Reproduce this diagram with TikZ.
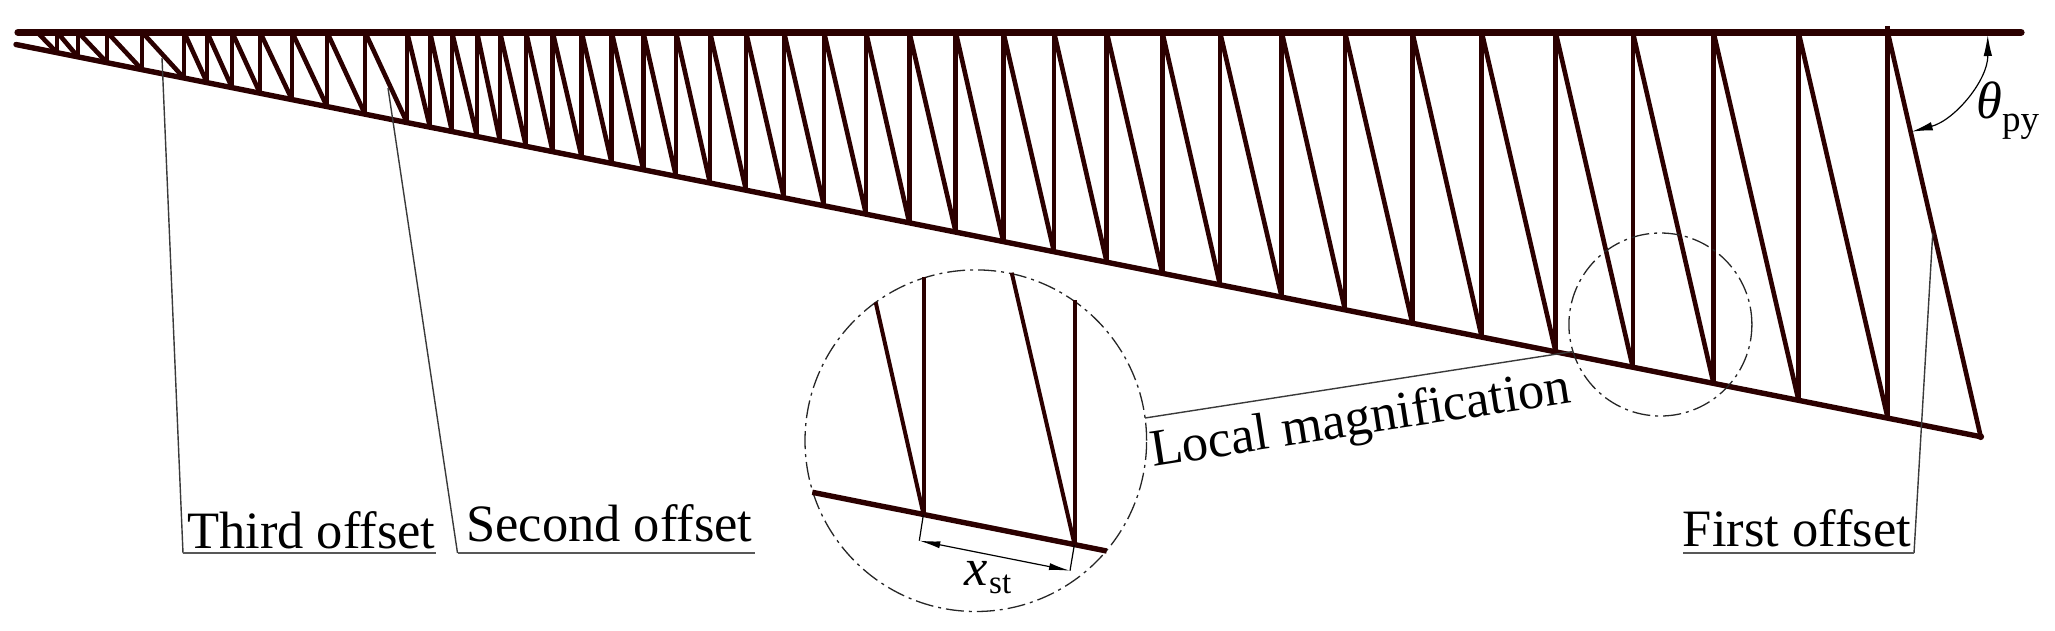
\documentclass[tikz,border=0pt]{standalone}
\usepackage{fontspec}
\setmainfont[Ligatures=NoCommon]{Liberation Serif}
\usetikzlibrary{arrows.meta}
\definecolor{truss}{HTML}{2B0000}
\definecolor{thin}{HTML}{3A3A3A}
\tikzset{
  chordtop/.style={draw=truss,line width=7.2pt,line cap=round},
  chordlow/.style={draw=truss,line width=5.4pt,line cap=round},
  member/.style={draw=truss,line width=4.6pt},
  leader/.style={draw=thin,line width=1.4pt},
  underl/.style={draw=thin!85,line width=2pt},
  zoomring/.style={draw=black!85,line width=1.3pt,dash pattern=on 18pt off 5pt on 3pt off 5pt},
  dim/.style={draw=black,line width=1.2pt},
  lbl/.style={inner sep=0pt,anchor=base west,font=\fontsize{52.5}{60}\selectfont,text=black}
}
\newcommand{\lowy}[1]{44.5+(#1-16)*0.1996}
\begin{document}
\begin{tikzpicture}[x=1pt,y=-1pt]
\useasboundingbox (0,0) rectangle (2055,630);
% diagonals and verticals
\foreach \a/\b in {37/57,57/78,78/107,107/142,142/184,184/207,207/232,232/260,260/292,292/327,327/365,365/407,407/430,430/452,452/477,477/500,500/526,526/552.7,552.7/581.7,581.7/611.7,611.7/643.3,643.3/676,676/710,710/746,746/784,784/824,824/866,866/909.3,909.3/955.7,955.7/1003.3,1003.3/1054,1054/1106.7,1106.7/1162.3,1162.3/1220,1220/1281.7,1281.7/1345,1345/1412.3,1412.3/1481.7,1481.7/1555.6,1555.6/1632.8,1632.8/1713.5,1713.5/1798.5,1798.5/1887.7}{
  \pgfmathsetmacro{\yb}{\lowy{\b}}
  \draw[member] (\a,32) -- (\b,\yb);
  \draw[member] (\b,32) -- (\b,\yb);
}
\coordinate (peg) at (1887.7,26);
\coordinate (tipend) at (1980.7,436.7);
\draw[member] (peg) -- (1887.7,40);
\draw[member] (1887.7,32) -- (tipend);
% chords
\coordinate (topL) at (18,32.4);
\coordinate (topR) at (2021,32.4);
\coordinate (lowL) at (16,44.5);
\draw[chordtop] (topL) -- (topR);
\draw[chordlow] (lowL) -- (tipend);
\fill[truss] (tipend) circle (3.4pt);
% small ring and big ring
\coordinate (smallC) at (1660.4,324.5);
\coordinate (bigC) at (975.8,440.7);
\draw[zoomring] (smallC) circle (91.5pt);
\draw[zoomring] (bigC) circle (170.8pt);
% magnified detail
\draw[member,line width=4pt] (875.7,302.3) -- (923.3,513.3);
\draw[member,line width=4pt] (924,276.7) -- (924,513.3);
\draw[member,line width=4pt] (1011.7,272.7) -- (1074.3,543.3);
\draw[member,line width=4pt] (1075,300) -- (1075,543.3);
\draw[chordlow,line cap=butt] (812.3,492.3) -- (1106.7,551);
% dimension
\coordinate (d1a) at (923.3,515);
\coordinate (d1b) at (919.3,540.7);
\coordinate (d2a) at (1074.3,545);
\coordinate (d2b) at (1070,570.7);
\draw[dim] (d1a) -- (d1b);
\draw[dim] (d2a) -- (d2b);
\draw[dim,{Latex[length=21pt,width=7pt]}-{Latex[length=21pt,width=7pt]}] (d1b) -- (d2b);
\node[lbl] (xst) at (964,585) {\textit{x}};
\node[inner sep=0pt,anchor=base west,font=\fontsize{33}{36}\selectfont] (xsub) at (989,593) {st};
% angle
\coordinate (angA) at (1911.7,131.7);
\coordinate (angB) at (1987.7,35);
\draw[dim,{Latex[length=21pt,width=8.5pt]}-{Latex[length=21pt,width=8.5pt]}] (angA) .. controls (1955,120) and (1988,80) .. (angB);
\node[lbl] (theta) at (1976.5,118) {\textit{θ}};
\node[inner sep=0pt,anchor=base west,font=\fontsize{37}{40}\selectfont] (thsub) at (2002,131.5) {py};
% labels and leaders
\node[lbl] (third) at (187,548) {Third offset};
\node[lbl] (second) at (466,541) {Second offset};
\node[lbl] (first) at (1682.7,546) {First offset};
\node[lbl,rotate=8.8] (local) at (1153,467) {Local magnification};
\coordinate (c3s) at (162,58);
\coordinate (c3c) at (183,553);
\coordinate (c3e) at (436,553);
\coordinate (c2s) at (388,88);
\coordinate (c2c) at (457.5,553);
\coordinate (c2e) at (755,553);
\coordinate (c1s) at (1932.7,233.7);
\coordinate (c1c) at (1914,553);
\coordinate (c1e) at (1682.7,553);
\coordinate (cLs) at (1572.6,351.6);
\coordinate (cLe) at (1145,418);
\draw[leader] (c3s) -- (c3c);
\draw[underl] (c3c) -- (c3e);
\draw[leader] (c2s) -- (c2c);
\draw[underl] (c2c) -- (c2e);
\draw[leader] (c1s) -- (c1c);
\draw[underl] (c1c) -- (c1e);
\draw[leader] (cLs) -- (cLe);
\end{tikzpicture}
\end{document}
